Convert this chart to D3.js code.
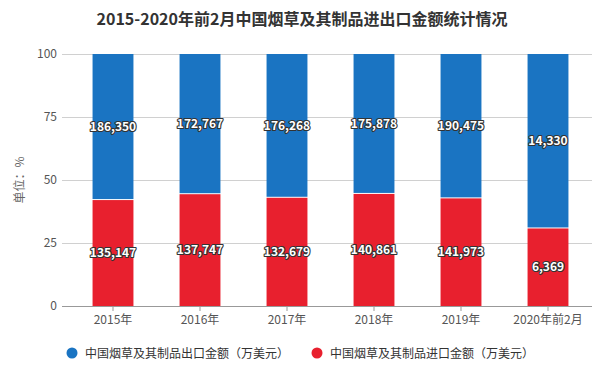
<!DOCTYPE html>
<html>
<head>
<meta charset="utf-8">
<title>D3.js</title>
<style>
  body { margin: 0; background: #fff; }
  text { font-family: "Noto Sans CJK SC", "Noto Sans", sans-serif; }
  .grid line { stroke: #d0d0d0; shape-rendering: crispEdges; }
  .axis text { fill: #555; font-size: 12px; }
  .lbl { font-size: 12px; font-weight: bold; fill: #fff; stroke: #333; stroke-width: 2.2px; paint-order: stroke; stroke-linejoin: round; }
</style>
</head>
<body>
<svg width="604" height="372"></svg>
<script src="https://d3js.org/d3.v7.min.js"></script>
<script>
var years = ["2015年", "2016年", "2017年", "2018年", "2019年", "2020年前2月"];
var exportVals = [186350, 172767, 176268, 175878, 190475, 14330];
var importVals = [135147, 137747, 132679, 140861, 141973, 6369];
var yTicks = [0, 25, 50, 75, 100];
var seriesNames = ["中国烟草及其制品出口金额（万美元）", "中国烟草及其制品进口金额（万美元）"];
var colors = { imp: "#e8202e", exp: "#1a74c2" };

var svg = d3.select("svg");

var x = d3.scaleBand()
    .domain(years)
    .range([69.5, 591.5])
    .paddingInner(0.53)
    .paddingOuter(0.265);

var y = d3.scaleLinear()
    .domain([0, 100])
    .range([306, 54]);

// title
svg.append("text")
    .attr("x", 302).attr("y", 25)
    .attr("text-anchor", "middle")
    .attr("font-size", 16).attr("font-weight", "bold")
    .attr("fill", "#333")
    .text("2015-2020年前2月中国烟草及其制品进出口金额统计情况");

// gridlines
var gy = svg.append("g").attr("class", "grid");
gy.selectAll("line").data(yTicks.filter(d => d > 0)).join("line")
    .attr("x1", 62).attr("x2", 592)
    .attr("y1", d => Math.round(y(d)) + 0.5).attr("y2", d => Math.round(y(d)) + 0.5);

// y labels
svg.append("g").attr("class", "axis")
  .selectAll("text").data(yTicks).join("text")
    .attr("x", 57).attr("y", d => y(d) + 4)
    .attr("text-anchor", "end")
    .text(d => d);

svg.append("text")
    .attr("transform", "translate(24,180) rotate(-90)")
    .attr("text-anchor", "middle")
    .attr("font-size", 12).attr("fill", "#666")
    .text("单位：%");

// stacked bars
var rows = years.map((c, i) => {
    var tot = exportVals[i] + importVals[i];
    return { c: c, imp: importVals[i], exp: exportVals[i], ip: importVals[i] / tot * 100 };
});

var bars = svg.append("g");
bars.selectAll("rect.imp").data(rows).join("rect")
    .attr("class", "imp")
    .attr("x", d => x(d.c)).attr("width", x.bandwidth())
    .attr("y", d => y(d.ip)).attr("height", d => y(0) - y(d.ip))
    .attr("fill", colors.imp);
bars.selectAll("rect.exp").data(rows).join("rect")
    .attr("class", "exp")
    .attr("x", d => x(d.c)).attr("width", x.bandwidth())
    .attr("y", y(100)).attr("height", d => y(d.ip) - y(100) - 1)
    .attr("fill", colors.exp);

var fmt = d3.format(",");
bars.selectAll("text.li").data(rows).join("text")
    .attr("class", "lbl li")
    .attr("x", d => x(d.c) + x.bandwidth() / 2)
    .attr("y", d => y(d.ip / 2) + 4)
    .attr("text-anchor", "middle")
    .text(d => fmt(d.imp));
bars.selectAll("text.le").data(rows).join("text")
    .attr("class", "lbl le")
    .attr("x", d => x(d.c) + x.bandwidth() / 2)
    .attr("y", d => y((d.ip + 100) / 2) + 4)
    .attr("text-anchor", "middle")
    .text(d => fmt(d.exp));

// x axis
var xAxis = d3.axisBottom(x).tickSize(5).tickSizeOuter(0).tickPadding(4);
var gx = svg.append("g").attr("class", "axis")
    .attr("transform", "translate(0," + y(0) + ")")
    .call(xAxis);
gx.select(".domain").remove();
gx.selectAll(".tick line").attr("stroke", "#999");
gx.selectAll("text").attr("font-family", null).attr("font-size", 12).attr("fill", "#555");
gx.append("line").attr("x1", 62).attr("x2", 592).attr("y1", 0.5).attr("y2", 0.5)
    .attr("stroke", "#999");

// legend
var leg = svg.append("g");
var legX = [72, 317];
var legC = [colors.exp, colors.imp];
leg.selectAll("circle").data(seriesNames).join("circle")
    .attr("cx", (d, i) => legX[i]).attr("cy", 353).attr("r", 5.5)
    .attr("fill", (d, i) => legC[i]);
leg.selectAll("text").data(seriesNames).join("text")
    .attr("x", (d, i) => legX[i] + 13).attr("y", 357.5)
    .attr("font-size", 12).attr("fill", "#333")
    .text(d => d);
</script>
</body>
</html>
